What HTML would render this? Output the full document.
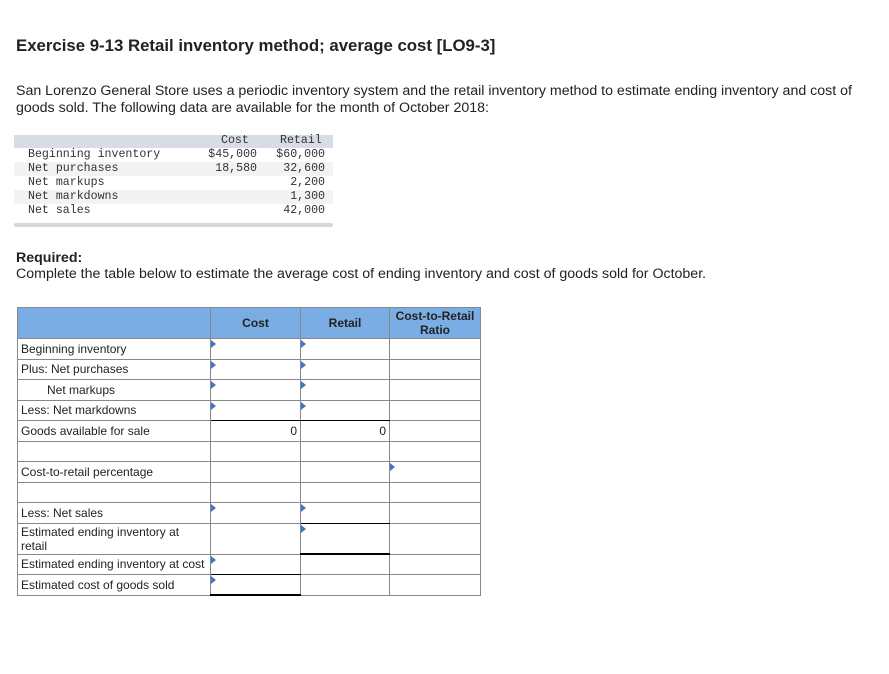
<!DOCTYPE html>
<html><head><style>
body{margin:0;width:889px;height:674px;background:#fff;font-family:"Liberation Sans",Arial,sans-serif;color:#222;position:relative;overflow:hidden}
.a{position:absolute;white-space:nowrap}
.mono{font-family:"Liberation Mono",monospace;font-size:11.6px;color:#333}
table{position:absolute;left:17px;top:307px;border-collapse:collapse;font-size:12px;color:#222;table-layout:fixed;width:463px}
td{border:1px solid #888;padding:0 3px;height:20.5px;box-sizing:border-box;position:relative;vertical-align:middle;overflow:visible;white-space:nowrap}
th{background:#7aade3;border:1px solid #888;height:31px;box-sizing:border-box;font-size:12px;font-weight:bold;color:#222;padding:0;line-height:14px}
.tri{position:absolute;left:0;top:1px;width:0;height:0;border-top:4px solid transparent;border-bottom:4px solid transparent;border-left:5px solid #3b78c8}
.bb{border-bottom:2px solid #000}
</style></head><body>
<div class="a" style="left:16px;top:36px;font-size:16.8px;font-weight:bold;color:#222">Exercise 9-13 Retail inventory method; average cost [LO9-3]</div>
<div class="a" style="left:16px;top:83px;font-size:14.2px;line-height:17px">San Lorenzo General Store uses a periodic inventory system and the retail inventory method to estimate ending inventory and cost of<br>goods sold. The following data are available for the month of October 2018:</div>
<div class="a" style="left:14px;top:135px;width:319px;height:13px;background:#d8dce5"></div>
<div class="a" style="left:14px;top:162px;width:319px;height:14px;background:#f3f3f3"></div>
<div class="a" style="left:14px;top:190px;width:319px;height:14px;background:#f3f3f3"></div>
<div class="a" style="left:14px;top:223px;width:319px;height:4px;background:#d3d6dc;border-radius:2px"></div>
<div class="a mono" style="left:221px;top:134px">Cost</div>
<div class="a mono" style="left:280px;top:134px">Retail</div>
<div class="a mono" style="left:28px;top:148px;line-height:14px">Beginning inventory<br>Net purchases<br>Net markups<br>Net markdowns<br>Net sales</div>
<div class="a mono" style="left:197px;top:148px;line-height:14px;text-align:right;width:60px">$45,000<br>18,580</div>
<div class="a mono" style="left:265px;top:148px;line-height:14px;text-align:right;width:60px">$60,000<br>32,600<br>2,200<br>1,300<br>42,000</div>
<div class="a" style="left:16px;top:250px;font-size:14.2px;font-weight:bold">Required:</div>
<div class="a" style="left:16px;top:266px;font-size:14.2px">Complete the table below to estimate the average cost of ending inventory and cost of goods sold for October.</div>
<table>
<colgroup><col style="width:193px"><col style="width:90px"><col style="width:89px"><col style="width:91px"></colgroup>
<tr><th></th><th>Cost</th><th>Retail</th><th>Cost-to-Retail<br>Ratio</th></tr>
<tr><td>Beginning inventory</td><td><i class="tri"></i></td><td><i class="tri"></i></td><td></td></tr>
<tr><td>Plus: Net purchases</td><td><i class="tri"></i></td><td><i class="tri"></i></td><td></td></tr>
<tr><td style="padding-left:29px">Net markups</td><td><i class="tri"></i></td><td><i class="tri"></i></td><td></td></tr>
<tr><td>Less: Net markdowns</td><td style="border-bottom-color:#000"><i class="tri"></i></td><td style="border-bottom-color:#000"><i class="tri"></i></td><td></td></tr>
<tr><td>Goods available for sale</td><td style="text-align:right">0</td><td style="text-align:right">0</td><td></td></tr>
<tr><td></td><td></td><td></td><td></td></tr>
<tr><td>Cost-to-retail percentage</td><td></td><td></td><td><i class="tri"></i></td></tr>
<tr><td></td><td></td><td></td><td></td></tr>
<tr><td>Less: Net sales</td><td><i class="tri"></i></td><td style="border-bottom-color:#000"><i class="tri"></i></td><td></td></tr>
<tr><td style="height:31px;white-space:normal;line-height:14px">Estimated ending inventory at retail</td><td></td><td class="bb" style="vertical-align:top"><i class="tri"></i></td><td></td></tr>
<tr><td style="padding-right:0">Estimated ending inventory at cost</td><td style="border-bottom-color:#000"><i class="tri"></i></td><td></td><td></td></tr>
<tr><td>Estimated cost of goods sold</td><td class="bb"><i class="tri"></i></td><td></td><td></td></tr>
</table>
</body></html>
